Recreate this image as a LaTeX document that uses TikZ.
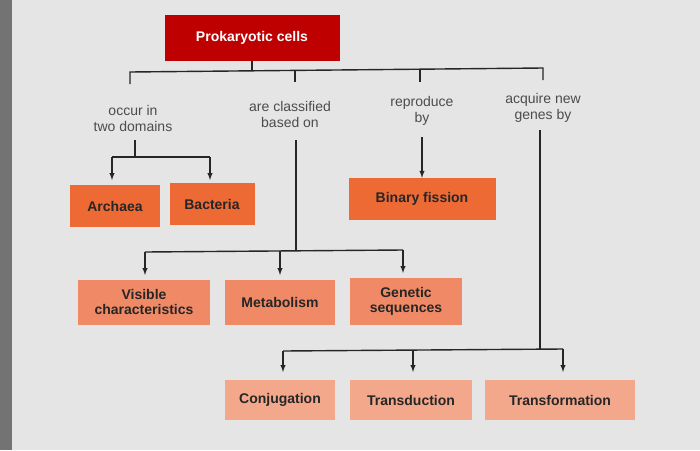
\documentclass[tikz,border=0pt]{standalone}
\usepackage{fontspec}
\setmainfont{Liberation Sans}
\definecolor{ora}{HTML}{EE6A34}
\definecolor{sal}{HTML}{F08A66}
\definecolor{lsal}{HTML}{F3A88C}
\begin{document}
\begin{tikzpicture}[x=1pt,y=-1pt,
  bx/.style={draw=none,minimum height=42pt,align=center,text=black!85,font=\bfseries\fontsize{14}{15}\selectfont},
  lab/.style={align=center,font=\fontsize{14}{16}\selectfont,text=black!70},
  ln/.style={line width=1.4pt,black!85},
  ar/.style={ln,-latex}]
\fill[black!10] (0,0) rectangle (700,450);
\fill[black!55] (0,0) rectangle (12,450);
\node[bx,fill=red!75!black,text=white,minimum width=175pt,minimum height=46pt] (t) at (252,38) {Prokaryotic cells};
\coordinate (h1) at (130,72); \coordinate (h2) at (543,68);
\draw[ln] (t.south) -- (252,70);
\draw[ln] (130,84) -- (h1) -- (h2) -- (543,80);
\draw[ln] (295,70) -- (295,82); \draw[ln] (420,69) -- (420,82);
\node[lab] (o) at (133,118) {occur in\\two domains};
\node[lab] (c) at (290,114) {are classified\\based on};
\node[lab] (r) at (422,111) {reproduce\\by};
\node[lab] (a) at (543,108) {acquire new\\genes by};
\node[bx,fill=ora,minimum width=90pt] (ar1) at (115,206) {Archaea};
\node[bx,fill=ora,minimum width=85pt] (ba) at (212,204) {Bacteria};
\node[bx,fill=ora,minimum width=147pt] (bf) at (422,199) {Binary fission};
\draw[ln] (135,140) -- (135,157); \draw[ln] (112,157) -- (210,157);
\draw[ar] (112,157) -- (112,180); \draw[ar] (210,157) -- (210,180);
\draw[ar] (r.south) ++(0,8) -- (bf.north);
\node[bx,fill=sal,minimum width=132pt,minimum height=45pt] (v) at (144,302) {Visible\\characteristics};
\node[bx,fill=sal,minimum width=110pt,minimum height=45pt] (m) at (280,302) {Metabolism};
\node[bx,fill=sal,minimum width=112pt,minimum height=47pt] (g) at (406,301) {Genetic\\sequences};
\draw[ln] (296,140) -- (296,250); \draw[ln] (145,252) -- (403,250);
\draw[ar] (145,252) -- (145,275); \draw[ar] (280,251) -- (280,275); \draw[ar] (403,250) -- (403,273);
\node[bx,fill=lsal,minimum width=110pt,minimum height=40pt] (cj) at (280,400) {Conjugation};
\node[bx,fill=lsal,minimum width=122pt,minimum height=40pt] (td) at (411,400) {Transduction};
\node[bx,fill=lsal,minimum width=150pt,minimum height=40pt] (tf) at (560,400) {Transformation};
\draw[ln] (540,130) -- (540,349); \draw[ln] (283,351) -- (563,349);
\draw[ar] (283,351) -- (283,372); \draw[ar] (413,350) -- (413,372); \draw[ar] (563,349) -- (563,372);
\end{tikzpicture}
\end{document}
